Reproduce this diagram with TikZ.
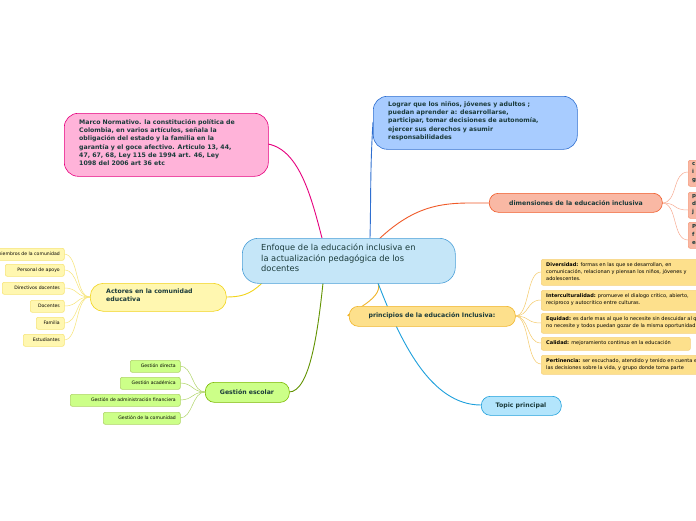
\documentclass[tikz,border=0pt]{standalone}
\usepackage{fontspec}
\setmainfont{DejaVu Sans}
\begin{document}
\begin{tikzpicture}[x=1pt,y=-1pt,
 box/.style={draw,rounded corners=#1,line width=0.6pt,inner sep=0pt},
 tx/.style={align=left,anchor=north west,inner sep=0pt,font=\fontsize{6}{7.5}\selectfont\bfseries},
 st/.style={align=left,anchor=west,inner sep=0pt,font=\fontsize{4.6}{6}\selectfont},
 lf/.style={box=2pt,fill=#1},
 con/.style={line width=0.9pt},
 thin/.style={line width=0.5pt}]
\definecolor{cb}{HTML}{C5E6F8}\definecolor{cbd}{HTML}{4A9FD8}
\definecolor{pk}{HTML}{FFB3D9}\definecolor{pkd}{HTML}{E6007E}
\definecolor{bl}{HTML}{A8CCFF}\definecolor{bld}{HTML}{2F6FD0}
\definecolor{sa}{HTML}{F9B8A4}\definecolor{sad}{HTML}{F05A28}
\definecolor{ye}{HTML}{FDE08C}\definecolor{yed}{HTML}{F0B429}
\definecolor{cy}{HTML}{B3E5FC}\definecolor{cyd}{HTML}{1EA0DC}
\definecolor{ly}{HTML}{FFF7B0}\definecolor{lyd}{HTML}{F2D41C}
\definecolor{gr}{HTML}{CCFF88}\definecolor{grd}{HTML}{7AB800}
\definecolor{tg}{HTML}{1A3A3A}
\fill[white] (0,0) rectangle (696,520);
\clip (0,0) rectangle (696,520);
% connectors
\draw[con,pkd] (268,144) .. controls (300,150) and (312,200) .. (322,238) coordinate (c1);
\draw[con,bld] (373,122) .. controls (370,170) and (371,200) .. (370,238);
\draw[con,sad] (378,240) .. controls (420,200) and (450,203) .. (489,203);
\draw[con,yed] (378,283) .. controls (385,300) and (340,316) .. (349,316);
\draw[con,cyd] (378,283) .. controls (400,340) and (430,405) .. (481,405);
\draw[con,lyd] (262,283) .. controls (250,295) and (240,297) .. (226,297);
\draw[con,grd!80!black] (323,283) .. controls (318,330) and (310,392) .. (289,392);
% children connectors
\foreach \y in {172,210,240}{\draw[thin,sad!50] (662,203) .. controls (678,203) and (672,\y) .. (688,\y);}
\foreach \y in {272,300,323,343,364}{\draw[thin,yed!70] (515,316) .. controls (530,316) and (526,\y) .. (541,\y);}
\foreach \y in {254,270,288,306,323,340}{\draw[thin,lyd!60] (90,297) .. controls (75,297) and (79,\y) .. (64,\y);}
\foreach \y in {366,383,400,418}{\draw[thin,grd!60] (205,392) .. controls (192,392) and (193,\y) .. (180,\y);}
% central
\node[box=16pt,fill=cb,draw=cbd,minimum width=213pt,minimum height=45pt,anchor=north west] (center) at (242,238) {};
\node[tx,font=\fontsize{8.3}{10.5}\selectfont,text=tg] at (261,244) {Enfoque de la educación inclusiva en\\la actualización pedagógica de los\\docentes};
% marco
\node[box=14pt,fill=pk,draw=pkd,minimum width=204pt,minimum height=63pt,anchor=north west] (marco) at (64,113) {};
\node[tx,text=tg,font=\fontsize{6.2}{8.3}\selectfont\bfseries] at (79,119) {Marco Normativo. la constitución política de\\Colombia, en varios artículos, señala la\\obligación del estado y la familia en la\\garantía y el goce afectivo. Articulo 13, 44,\\47, 67, 68, Ley 115 de 1994 art. 46, Ley\\1098 del 2006 art 36 etc};
% lograr
\node[box=14pt,fill=bl,draw=bld,minimum width=204pt,minimum height=53pt,anchor=north west] (lograr) at (373,96) {};
\node[tx,text=tg,font=\fontsize{6.2}{8.3}\selectfont\bfseries] at (388,101) {Lograr que los niños, jóvenes y adultos ;\\puedan aprender a: desarrollarse,\\participar, tomar decisiones de autonomía,\\ejercer sus derechos y asumir\\responsabilidades};
% dimensiones
\node[box=9pt,fill=sa,draw=sad,minimum width=173pt,minimum height=19pt,anchor=north west] (dim) at (489,193) {};
\node[tx,anchor=center,text=tg,font=\fontsize{6.2}{8}\selectfont\bfseries] at (576,203) {dimensiones de la educación inclusiva};
\foreach \y/\t in {160/{c\\i\\g},192/{p\\d\\j},222/{P\\f\\e}}{
 \node[lf=sa,draw=sad!60,minimum width=30pt,minimum height=26pt,anchor=north west] at (688,\y) {};
 \node[tx,font=\fontsize{5.5}{8}\selectfont\bfseries,text=tg] at (692,\y+2) {\t};}
% principios
\node[box=9pt,fill=ye,draw=yed,minimum width=166pt,minimum height=20pt,anchor=north west] (prin) at (349,306) {};
\node[tx,anchor=center,text=tg,font=\fontsize{6.2}{8}\selectfont\bfseries] at (432,316) {principios de la educación Inclusiva:};
\node[lf=ye,draw=yed!60,minimum width=170pt,minimum height=26pt,anchor=north west] (d1) at (541,259) {};
\node[st,anchor=north west,font=\fontsize{5}{7}\selectfont] at (546,262) {\textbf{Diversidad:} formas en las que se desarrollan, en\\comunicación, relacionan y piensan los niños, jóvenes y\\adolescentes.};
\node[lf=ye,draw=yed!60,minimum width=170pt,minimum height=20pt,anchor=north west] (d2) at (541,290) {};
\node[st,anchor=north west,font=\fontsize{5}{7}\selectfont] at (546,293) {\textbf{Interculturalidad:} promueve el dialogo critico, abierto,\\reciproco y autocritico entre culturas.};
\node[lf=ye,draw=yed!60,minimum width=170pt,minimum height=20pt,anchor=north west] (d3) at (541,313) {};
\node[st,anchor=north west,font=\fontsize{5}{7}\selectfont] at (546,316) {\textbf{Equidad:} es darle mas al que lo necesite sin descuidar al que\\no necesite y todos puedan gozar de la misma oportunidad};
\node[lf=ye,draw=yed!60,minimum width=149pt,minimum height=13pt,anchor=north west] (d4) at (541,337) {};
\node[st,font=\fontsize{5}{7}\selectfont] at (546,343.5) {\textbf{Calidad:} mejoramiento continuo en la educación};
\node[lf=ye,draw=yed!60,minimum width=170pt,minimum height=19pt,anchor=north west] (d5) at (541,355) {};
\node[st,anchor=north west,font=\fontsize{5}{7}\selectfont] at (546,358) {\textbf{Pertinencia:} ser escuchado, atendido y tenido en cuenta en\\las decisiones sobre la vida, y grupo donde toma parte};
% topic
\node[box=9pt,fill=cy,draw=cyd,minimum width=80pt,minimum height=19pt,anchor=north west] (topic) at (481,396) {};
\node[tx,anchor=center,text=tg,font=\fontsize{6.2}{8}\selectfont\bfseries] at (521,405.5) {Topic principal};
% actores
\node[box=13pt,fill=ly,draw=lyd,minimum width=136pt,minimum height=28pt,anchor=north west] (act) at (90,283) {};
\node[tx,text=tg,font=\fontsize{6.2}{8}\selectfont\bfseries] at (106,289) {Actores en la comunidad\\educativa};
\foreach \a/\b/\t/\n in {-10/248/{miembros de la comunidad}/a1,5/264/{Personal de apoyo}/a2,2/282/{Directivos docentes}/a3,30/300/{Docentes}/a4,36/317/{Familia}/a5,23/334/{Estudiantes}/a6}{
 \node[lf=ly,draw=lyd!60,minimum height=12pt,minimum width=64pt-\a pt,anchor=north west] (\n) at (\a,\b) {};
 \node[st,anchor=east,font=\fontsize{4.6}{6}\selectfont] at (60,\b+6) {\t};}
% gestion
\node[box=9pt,fill=gr,draw=grd,minimum width=84pt,minimum height=20pt,anchor=north west] (ges) at (205,382) {};
\node[tx,anchor=center,text=tg,font=\fontsize{6.2}{8}\selectfont\bfseries] at (247,392) {Gestión escolar};
\foreach \a/\b/\t/\n in {130/360/{Gestión directa}/g1,120/377/{Gestión académica}/g2,70/394/{Gestión de administración financiera}/g3,103/412/{Gestión de la comunidad}/g4}{
 \node[lf=gr,draw=grd!60,minimum height=12pt,minimum width=180pt-\a pt,anchor=north west] (\n) at (\a,\b) {};
 \node[st,anchor=east,font=\fontsize{4.6}{6}\selectfont] at (176,\b+6) {\t};}
\end{tikzpicture}
\end{document}
